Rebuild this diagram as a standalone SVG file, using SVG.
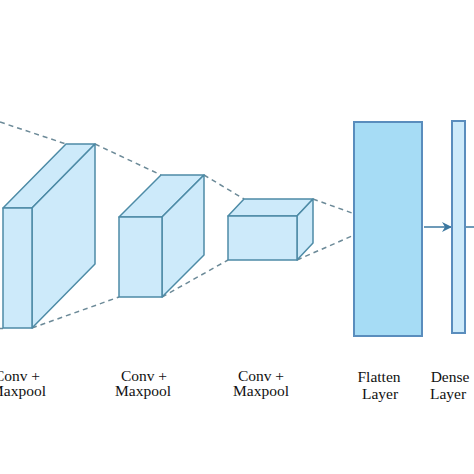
<svg xmlns="http://www.w3.org/2000/svg" width="474" height="474" viewBox="0 0 474 474">
<style>
.face{fill:#cdeafa;stroke:#4d8ba6;stroke-width:1.5;stroke-linejoin:round}
.dash{fill:none;stroke:#6c8a98;stroke-width:1.5;stroke-dasharray:5 4}
.lbl{font-family:"Liberation Serif","Times New Roman",serif;font-size:15.5px;fill:#111;text-anchor:middle}
</style>
<defs>
<marker id="ah" viewBox="0 0 10 10" refX="9" refY="5" markerWidth="10" markerHeight="10" markerUnits="userSpaceOnUse" orient="auto">
<path d="M0,0 L10,5 L0,10 L3,5 Z" fill="#3c78a0"/>
</marker>
</defs>
<rect width="474" height="474" fill="#fff"/>
<g id="connectors">
<line class="dash" x1="0" y1="122" x2="66" y2="144"/>
<line class="dash" x1="0" y1="328.5" x2="3" y2="328.5"/>
<line class="dash" x1="95" y1="144" x2="161" y2="175"/>
<line class="dash" x1="32" y1="328" x2="119" y2="297"/>
<line class="dash" x1="204" y1="175" x2="244" y2="199"/>
<line class="dash" x1="162" y1="297" x2="228" y2="260"/>
<line class="dash" x1="313" y1="199" x2="352" y2="213"/>
<line class="dash" x1="297" y1="260" x2="352" y2="236"/>
<line x1="424" y1="227" x2="451" y2="227" stroke="#3c78a0" stroke-width="1.5" marker-end="url(#ah)"/>
<line x1="465" y1="227" x2="474" y2="227" stroke="#3c78a0" stroke-width="1.5"/>
</g>
<g id="conv1">
<polygon class="face" points="3,208 32,208 95,144 66,144"/>
<polygon class="face" points="32,208 95,144 95,264 32,328"/>
<rect class="face" x="3" y="208" width="29" height="120"/>
</g>
<g id="conv2">
<polygon class="face" points="119,217 162,217 204,175 161,175"/>
<polygon class="face" points="162,217 204,175 204,255 162,297"/>
<rect class="face" x="119" y="217" width="43" height="80"/>
</g>
<g id="conv3">
<polygon class="face" points="228,216 297,216 313,199 244,199"/>
<polygon class="face" points="297,216 313,199 313,243 297,260"/>
<rect class="face" x="228" y="216" width="69" height="44"/>
</g>
<g id="flatten">
<rect x="354" y="122" width="68" height="214" fill="#a6dcf5" stroke="#5a8dbd" stroke-width="2"/>
</g>
<g id="dense">
<rect x="452" y="121" width="13" height="212" fill="#cdeafa" stroke="#5a8dbd" stroke-width="2"/>
</g>
<g id="labels">
<text class="lbl" x="17" y="381">Conv +</text>
<text class="lbl" x="18" y="396">Maxpool</text>
<text class="lbl" x="144" y="381">Conv +</text>
<text class="lbl" x="143" y="396">Maxpool</text>
<text class="lbl" x="261" y="381">Conv +</text>
<text class="lbl" x="261" y="396">Maxpool</text>
<text class="lbl" x="379" y="382">Flatten</text>
<text class="lbl" x="380" y="399">Layer</text>
<text class="lbl" x="450" y="382">Dense</text>
<text class="lbl" x="448" y="399">Layer</text>
</g>
</svg>
